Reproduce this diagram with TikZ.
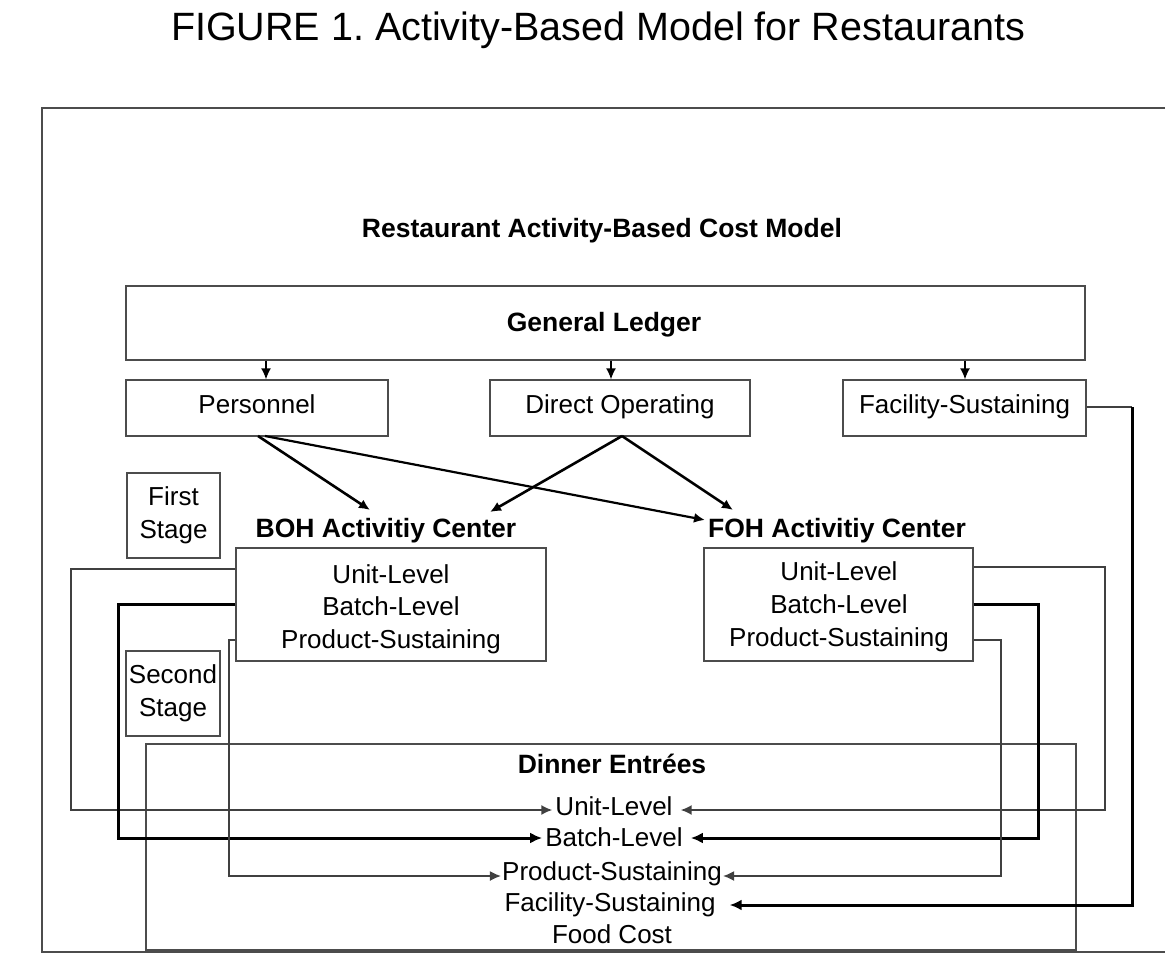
\documentclass[tikz,border=0pt]{standalone}
\usepackage{fontspec}
\setmainfont{Liberation Sans}
\usetikzlibrary{arrows.meta}
\begin{document}
\begin{tikzpicture}[x=1pt,y=-1pt,
 box/.style={draw=black!70,line width=1.4pt,inner sep=0pt},
 txt/.style={font=\fontsize{26}{30}\selectfont,inner sep=0pt,text height=17pt,text depth=6pt},
 btxt/.style={font=\bfseries\fontsize{26.5}{30}\selectfont,inner sep=0pt,text height=17pt,text depth=6pt},
 ar/.style={-{Latex[length=11pt,width=10pt]},line width=1.4pt},
 thk/.style={-{Latex[length=12pt,width=11pt]},line width=3pt},
 ln/.style={line width=1.6pt,black!75,-{Latex[length=11pt,width=10pt]}},
 pl/.style={line width=1.6pt,black!75}]
\useasboundingbox (0,0) rectangle (1176,966);
\node[font=\fontsize{39.5}{44}\selectfont,inner sep=0pt] (title) at (598,30) {FIGURE 1.\ Activity-Based Model for Restaurants};
\draw[black!70,line width=1.4pt] (1165,108) -- (42,108) -- (42,952) -- (1165,952);
\node[btxt] (rabc) at (602,232) {Restaurant Activity-Based Cost Model};
\node[box,minimum width=959pt,minimum height=74pt] (gl) at (605.5,323) {};
\node[btxt] at (604,326) {General Ledger};
\node[box,txt,minimum width=262pt,minimum height=56pt] (pers) at (257,408) {Personnel};
\node[box,txt,minimum width=260pt,minimum height=56pt] (dop) at (620,408) {Direct Operating};
\node[box,txt,minimum width=243pt,minimum height=56pt] (fac) at (964.5,408) {Facility-Sustaining};
\draw[ar] (gl.south -| 266,0) -- (pers.north -| 266,0);
\draw[ar] (gl.south -| 611,0) -- (dop.north -| 611,0);
\draw[ar] (gl.south -| 965,0) -- (fac.north -| 965,0);
\node[box,font=\fontsize{26}{33}\selectfont,minimum width=93pt,minimum height=85pt,align=center,inner sep=0pt] (fs) at (173.5,515.5) {First\\Stage};
\node[box,font=\fontsize{26}{33}\selectfont,minimum width=94pt,minimum height=85pt,align=center,inner sep=0pt] (ss) at (173,693.5) {Second\\Stage};
\node[btxt] (bohl) at (386,532) {BOH Activitiy Center};
\node[btxt] (fohl) at (837,532) {FOH Activitiy Center};
\node[box,minimum width=310pt,minimum height=113pt] (boh) at (391,604.5) {};
\node[box,minimum width=269pt,minimum height=113pt] (foh) at (838.5,604.5) {};
\node[txt] at (391,578) {Unit-Level};
\node[txt] at (391,610) {Batch-Level};
\node[txt] at (391,643) {Product-Sustaining};
\node[txt] at (839,575) {Unit-Level};
\node[txt] at (839,608) {Batch-Level};
\node[txt] at (839,641) {Product-Sustaining};
\coordinate (p1) at (258,436); \coordinate (p2) at (265,436); \coordinate (d1) at (622,436);
\coordinate (bt) at (370,510); \coordinate (ft) at (705,520); \coordinate (bt2) at (490,512); \coordinate (ft2) at (733,510);
\draw[ar,line width=2.6pt] (p1) -- (bt);
\draw[ar,line width=2.2pt] (p2) -- (ft);
\draw[ar,line width=2.6pt] (d1) -- (bt2);
\draw[ar,line width=2.6pt] (d1) -- (ft2);
\node[box,minimum width=930pt,minimum height=206pt] (din) at (611,847) {};
\node[btxt] at (612,768) {Dinner Entrées};
\node[txt] (ul) at (614,810) {Unit-Level};
\node[txt] (bl) at (614,841) {Batch-Level};
\node[txt] (ps) at (612,875) {Product-Sustaining};
\node[txt] (fcs) at (610,906) {Facility-Sustaining};
\node[txt] (fc) at (612,938) {Food Cost};
\draw[ln] (boh.west |- 0,569) -- (71,569) -- (71,810) -- ([xshift=-3pt]ul.west |- 0,810);
\draw[thk] (boh.west |- 0,604) -- (118,604) -- (118,838) -- ([xshift=-3pt]bl.west |- 0,838);
\draw[ln] (boh.west |- 0,640) -- (229,640) -- (229,876) -- ([xshift=-1pt]ps.west |- 0,876);
\draw[ln] (foh.east |- 0,567) -- (1105,567) -- (1105,810) -- ([xshift=8pt]ul.east |- 0,810);
\draw[thk] (foh.east |- 0,604) -- (1038,604) -- (1038,838) -- ([xshift=8pt]bl.east |- 0,838);
\draw[ln] (foh.east |- 0,640) -- (1001,640) -- (1001,876) -- ([xshift=1pt]ps.east |- 0,876);
\coordinate (fr) at (1132,407);
\draw[pl] (fac.east |- 0,407) -- (fr);
\draw[thk] (fr) -- (1132,905) -- ([xshift=14pt]fcs.east |- 0,905);
\end{tikzpicture}
\end{document}
